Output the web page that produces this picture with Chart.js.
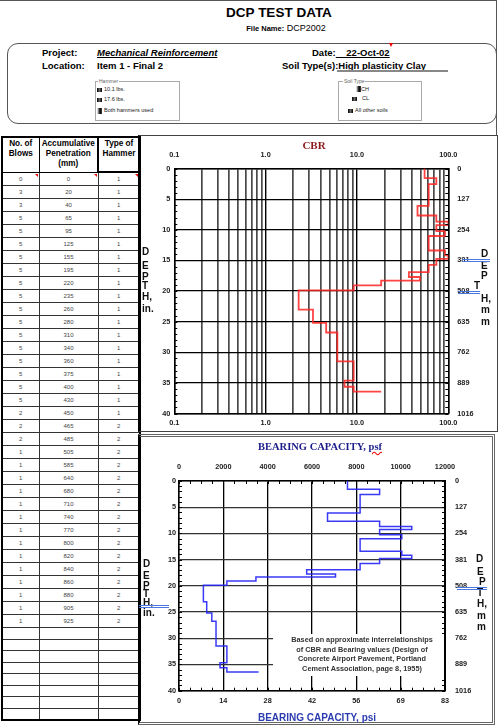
<!DOCTYPE html>
<html>
<head>
<meta charset="utf-8">
<title>DCP Test Data</title>
<script src="https://cdn.jsdelivr.net/npm/chart.js@4.4.1/dist/chart.umd.min.js"></script>
<style>
  html, body { margin: 0; padding: 0; background: #fff; }
  body { width: 500px; height: 725px; position: relative; overflow: hidden; font-family: "Liberation Sans", Arial, sans-serif; color: #000; }
  .a { position: absolute; white-space: nowrap; line-height: 1.2; }
  .b { font-weight: bold; }
  .c { transform: translateX(-50%); }
  .hd { font-size: 9.5px; font-weight: bold; }
  .leg { position: absolute; border: 1px solid #aaa; }
  .legt { position: absolute; font-size: 5px; color: #666; background: #fff; padding: 0 1px; line-height: 6px; }
  .li { position: absolute; font-size: 5.5px; color: #222; line-height: 7px; white-space: nowrap; }
  .ico { position: absolute; width: 5px; height: 4px; background: linear-gradient(90deg, #000, #666 50%, #000); }
  .ico2 { position: absolute; width: 5px; height: 6px; background: linear-gradient(90deg, #fff, #000 60%, #444); }
  .dl { position: absolute; font-size: 10px; font-weight: bold; line-height: 11px; color: #111; }
  .blue { position: absolute; height: 1px; border-top: 1px solid #4a78e0; border-bottom: 1px solid #4a78e0; }
  #tbl { position: absolute; left: 1px; top: 136px; width: 138px; border-collapse: collapse; table-layout: fixed; border: 2px solid #000; }
  #tbl th { font-size: 8.2px; font-weight: bold; line-height: 10px; height: 32px; vertical-align: top; border: 1px solid #000; padding: 1px 0 0 0; }
  #tbl th.thick { border: 2px solid #000; }
  #tbl td { font-size: 6px; color: #444; text-align: center; border: 1px solid #333; padding: 0; position: relative; }
  #tbl tr.d td { height: 12px; line-height: 12px; }
  #tbl tr.e td { height: 10.5px; }
  #tbl tr.first td::after { content: ""; position: absolute; right: 1px; top: 1px; border-left: 3px solid transparent; border-top: 3px solid #e00; }
  canvas { position: absolute; }
</style>
</head>
<body>

<!-- page frame -->
<div class="a" style="left:0;top:0;width:497px;border-top:1px solid #555;"></div>
<div class="a" style="left:496px;top:0;height:136px;border-left:1px solid #555;"></div>

<div class="a b c" style="left:279px;top:5px;font-size:13.5px;">DCP TEST DATA</div>
<div class="a c" style="left:286px;top:23px;font-size:9px;"><span class="b" style="font-size:7.5px;">File Name:</span> DCP2002</div>

<!-- info box -->
<div class="a" style="left:7px;top:43px;width:488px;height:79px;border:1px solid #555;border-radius:11px;"></div>
<div class="a hd" style="left:42px;top:47px;">Project:</div>
<div class="a hd" style="left:97px;top:47px;font-style:italic;text-decoration:underline;">Mechanical Reinforcement</div>
<div class="a hd" style="left:42px;top:60px;">Location:</div>
<div class="a hd" style="left:97px;top:60px;">Item 1 - Final 2</div>
<div class="a hd" style="left:312px;top:47px;">Date:<u>&nbsp;&nbsp;&nbsp;&nbsp;22-Oct-02</u></div>
<div class="a" style="left:389px;top:43px;border-left:2px solid transparent;border-top:4px solid #e00;border-right:2px solid transparent;"></div>
<div class="a hd" style="left:282px;top:60px;">Soil Type(s):<u>High plasticity Clay</u></div>
<div class="a" style="left:337px;top:70px;width:111px;border-top:2px solid #888;"></div>

<div class="leg" style="left:95px;top:81px;width:83px;height:38px;"></div>
<div class="legt" style="left:98px;top:78px;">Hammer</div>
<div class="ico" style="left:97px;top:88px;"></div><div class="li" style="left:104px;top:86px;">10.1 lbs.</div>
<div class="ico" style="left:97px;top:98px;"></div><div class="li" style="left:104px;top:96px;">17.6 lbs.</div>
<div class="ico2" style="left:97px;top:108px;"></div><div class="li" style="left:104px;top:107px;">Both hammers used</div>

<div class="leg" style="left:338px;top:81px;width:82px;height:38px;"></div>
<div class="legt" style="left:343px;top:78px;">Soil Type</div>
<div class="ico2" style="left:356px;top:86px;"></div><div class="li" style="left:361px;top:86px;">CH</div>
<div class="ico" style="left:352px;top:97px;"></div><div class="li" style="left:362px;top:95px;">CL</div>
<div class="ico" style="left:348px;top:109px;"></div><div class="li" style="left:355px;top:107px;">All other soils</div>

<!-- data table -->
<table id="tbl">
  <colgroup><col style="width:37px"><col style="width:59px"><col style="width:42px"></colgroup>
  <thead><tr><th>No. of<br>Blows</th><th>Accumulative<br>Penetration<br>(mm)</th><th class="thick">Type of<br>Hammer</th></tr></thead>
  <tbody id="rows"></tbody>
</table>

<!-- chart panels -->
<canvas id="cbrChart" width="354" height="293" style="left:141px;top:137px;"></canvas>
<canvas id="bearChart" width="351" height="283" style="left:141px;top:438px;"></canvas>

<div class="a" style="left:138px;top:135px;width:357px;height:295px;border:1px solid #444;border-left:2px solid #000;pointer-events:none;"></div>
<div class="a" style="left:138px;top:434px;width:352px;height:285px;border:3px double #666;border-left:2px solid #000;"></div>

<div class="a b c" style="left:314px;top:139px;font-family:'Liberation Serif',serif;font-size:11px;color:#8b1a1a;">CBR</div>
<div class="a b c" style="left:320px;top:441px;font-family:'Liberation Serif',serif;font-size:10.5px;color:#1c1c8a;">BEARING CAPACITY, <span style="text-decoration:underline wavy #e00;">psf</span></div>
<div class="a b c" style="left:317px;top:712px;font-size:10px;color:#2a3cb0;">BEARING CAPACITY, psi</div>

<div class="a" style="left:273px;top:634px;width:171px;height:42px;background:#fff;"></div>
<div class="a c" style="left:362px;top:635px;font-size:7.3px;line-height:9.7px;font-weight:bold;color:#333;text-align:center;">Based on approximate interrelationships<br>of CBR and Bearing values (Design of<br>Concrete Airport Pavement, Portland<br>Cement Association, page 8, 1955)</div>

<!-- depth labels -->
<div class="dl" style="left:142px;top:246px;">D</div>
<div class="dl" style="left:142px;top:260px;">E</div>
<div class="dl" style="left:142px;top:271px;">P</div>
<div class="dl" style="left:142px;top:280px;">T</div>
<div class="dl" style="left:142px;top:291px;">H,</div>
<div class="dl" style="left:142px;top:303px;">in.</div>

<div class="dl" style="left:481px;top:248px;">D</div>
<div class="dl" style="left:481px;top:260px;">E</div>
<div class="dl" style="left:481px;top:270px;">P</div>
<div class="dl" style="left:474px;top:280px;">T</div>
<div class="dl" style="left:481px;top:293px;">H,</div>
<div class="dl" style="left:481px;top:304px;">m</div>
<div class="dl" style="left:481px;top:316px;">m</div>
<div class="blue" style="left:462px;top:259px;width:28px;"></div>
<div class="blue" style="left:458px;top:291px;width:22px;"></div>

<div class="dl" style="left:143px;top:558px;">D</div>
<div class="dl" style="left:143px;top:570px;">E</div>
<div class="dl" style="left:143px;top:580px;">P</div>
<div class="dl" style="left:143px;top:588px;">T</div>
<div class="dl" style="left:143px;top:597px;">H,</div>
<div class="dl" style="left:143px;top:607px;">in.</div>
<div class="blue" style="left:139px;top:605px;width:30px;"></div>

<div class="dl" style="left:476px;top:553px;">D</div>
<div class="dl" style="left:477px;top:566px;">E</div>
<div class="dl" style="left:479px;top:576px;">P</div>
<div class="dl" style="left:477px;top:587px;">T</div>
<div class="dl" style="left:477px;top:598px;">H,</div>
<div class="dl" style="left:477px;top:610px;">m</div>
<div class="dl" style="left:477px;top:621px;">m</div>
<div class="blue" style="left:457px;top:587px;width:30px;"></div>

<script>
// table values
const blows = [0, 3, 3, 5, 5, 5, 5, 5, 5, 5, 5, 5, 5, 5, 5, 5, 5, 5, 2, 2, 2, 1, 1, 1, 1, 1, 1, 1, 1, 1, 1, 1, 1, 1, 1];
const penetrationMm = [0, 20, 40, 65, 95, 125, 155, 195, 220, 235, 260, 280, 310, 340, 360, 375, 400, 430, 450, 465, 485, 505, 585, 640, 680, 710, 740, 770, 800, 820, 840, 860, 880, 905, 925];
const hammerType = [1, 1, 1, 1, 1, 1, 1, 1, 1, 1, 1, 1, 1, 1, 1, 1, 1, 1, 1, 2, 2, 2, 2, 2, 2, 2, 2, 2, 2, 2, 2, 2, 2, 2, 2];

// CBR and bearing value for each layer between two readings
const cbrValues = [55, 55, 74, 61, 61, 61, 46, 74, 100, 74, 92, 61, 61, 92, 100, 74, 61, 37, 49, 18.4, 9.2, 2.3, 3.3, 4.6, 6.1, 6.1, 6.1, 6.1, 9.2, 9.2, 9.2, 9.2, 7.3, 9.2];
const cbrTail = 18.4;
const bearingPsf = [7600, 7600, 9050, 8170, 8170, 8170, 6700, 9050, 10500, 9050, 10050, 8170, 8170, 10050, 10500, 9050, 8170, 5760, 7060, 3470, 2160, 1100, 1250, 1480, 1670, 1670, 1670, 1670, 2160, 2160, 2160, 2160, 1850, 2160];
const bearingTail = 3590;

// axis ticks
const cbrDecades = [0.1, 1, 10, 100];
const cbrTickLabels = ['0.1', '1.0', '10.0', '100.0'];
const depthInTicks = [0, 5, 10, 15, 20, 25, 30, 35, 40];
const depthMmTicks = [0, 127, 254, 381, 508, 635, 762, 889, 1016];
const psfTicks = [0, 2000, 4000, 6000, 8000, 10000, 12000];
const psiTickLabels = ['0', '14', '28', '42', '56', '69', '83'];

const emptyRows = 8;

// ---- table ----
const tbody = document.getElementById('rows');
penetrationMm.forEach((p, i) => {
    const tr = document.createElement('tr');
    tr.className = i === 0 ? 'd first' : 'd';
    tr.innerHTML = `<td>${blows[i]}</td><td>${p}</td><td>${hammerType[i]}</td>`;
    tbody.appendChild(tr);
});
for (let k = 0; k < emptyRows; k++) {
    const tr = document.createElement('tr');
    tr.className = 'e';
    tr.innerHTML = '<td></td><td></td><td></td>';
    tbody.appendChild(tr);
}

// ---- chart helpers ----
const depthIn = penetrationMm.map(mm => mm / 25.4);

function stepPoints(vals, tail) {
    const pts = [];
    vals.forEach((v, i) => {
        pts.push({ x: v, y: depthIn[i] }, { x: v, y: depthIn[i + 1] });
    });
    pts.push({ x: tail, y: depthIn[depthIn.length - 1] });
    return pts;
}

const cbrGrid = [];
cbrDecades.slice(0, -1).forEach(d => {
    for (let m = 1; m < 10; m++) cbrGrid.push(+(d * m).toPrecision(3));
});
cbrGrid.push(cbrDecades[cbrDecades.length - 1]);

function cbrLabel(v) {
    const k = cbrDecades.findIndex(d => Math.abs(d - v) < 1e-9);
    return k < 0 ? '' : cbrTickLabels[k];
}

const minorDepth = Array.from({ length: 41 }, (_, i) => i);
const minorPsf = Array.from({ length: 25 }, (_, i) => i * 500);

const edgeTicks = {
    id: 'edgeTicks',
    afterDatasetsDraw(chart, args, opts) {
        const { ctx, chartArea: a, scales } = chart;
        ctx.save();
        ctx.strokeStyle = '#000';
        ctx.lineWidth = 1;
        ctx.beginPath();
        (opts.ys || []).forEach(v => {
            const py = Math.round(scales.y.getPixelForValue(v)) + 0.5;
            ctx.moveTo(a.left, py); ctx.lineTo(a.left + opts.len, py);
            ctx.moveTo(a.right, py); ctx.lineTo(a.right - opts.len, py);
        });
        (opts.xs || []).forEach(v => {
            const px = Math.round(scales.x.getPixelForValue(v)) + 0.5;
            ctx.moveTo(px, a.top); ctx.lineTo(px, a.top + opts.len);
            ctx.moveTo(px, a.bottom); ctx.lineTo(px, a.bottom - opts.len);
        });
        ctx.stroke();
        ctx.restore();
    }
};

Chart.defaults.font.family = "'Liberation Sans', Arial, sans-serif";
Chart.defaults.color = '#222';

const tickFont = { size: 7.3, weight: 'bold' };

function fixed(size) {
    return axis => {
        if (axis.isHorizontal()) axis.height = size; else axis.width = size;
    };
}

// ---- CBR chart ----
new Chart(document.getElementById('cbrChart'), {
    type: 'scatter',
    data: {
        datasets: [{
            data: stepPoints(cbrValues, cbrTail),
            showLine: true,
            borderColor: 'rgba(255, 35, 35, 0.85)',
            borderWidth: 1.8,
            pointRadius: 0
        }]
    },
    options: {
        responsive: false,
        animation: false,
        layout: { padding: 0 },
        plugins: {
            legend: { display: false },
            tooltip: { enabled: false },
            edgeTicks: { ys: minorDepth, len: 3 }
        },
        scales: {
            x: {
                type: 'logarithmic', position: 'top', min: 0.1, max: 100,
                afterBuildTicks: axis => { axis.ticks = cbrGrid.map(v => ({ value: v })); },
                afterFit: fixed(31.5),
                ticks: { callback: v => cbrLabel(v), autoSkip: false, maxRotation: 0, padding: 9, font: tickFont },
                grid: {
                    drawTicks: false,
                    color: c => cbrDecades.includes(c.tick.value) ? '#000' : '#4a4a4a',
                    lineWidth: c => cbrDecades.includes(c.tick.value) ? 1.4 : 1.7
                },
                border: { color: '#000', width: 1.5 }
            },
            x2: {
                type: 'logarithmic', position: 'bottom', min: 0.1, max: 100,
                afterBuildTicks: axis => { axis.ticks = cbrGrid.map(v => ({ value: v })); },
                afterFit: fixed(16.5),
                ticks: { callback: v => cbrLabel(v), autoSkip: false, maxRotation: 0, padding: 5, font: tickFont },
                grid: { drawOnChartArea: false, drawTicks: false },
                border: { color: '#000', width: 1.5 }
            },
            y: {
                type: 'linear', position: 'left', reverse: true, min: 0, max: 40,
                afterBuildTicks: axis => { axis.ticks = depthInTicks.map(v => ({ value: v })); },
                afterFit: fixed(33.3),
                ticks: { padding: 4, font: tickFont, callback: (v, i) => String(depthInTicks[i]) },
                grid: { drawTicks: false, color: '#000', lineWidth: 1.2 },
                border: { color: '#000', width: 1.5 }
            },
            y2: {
                type: 'linear', position: 'right', reverse: true, min: 0, max: 1016,
                afterBuildTicks: axis => { axis.ticks = depthMmTicks.map(v => ({ value: v })); },
                afterFit: fixed(46.7),
                ticks: { padding: 9, font: tickFont, callback: (v, i) => String(depthMmTicks[i]) },
                grid: { drawOnChartArea: false, drawTicks: false },
                border: { color: '#000', width: 1.5 }
            }
        }
    },
    plugins: [edgeTicks]
});

// ---- Bearing capacity chart ----
new Chart(document.getElementById('bearChart'), {
    type: 'scatter',
    data: {
        datasets: [{
            data: stepPoints(bearingPsf, bearingTail),
            showLine: true,
            borderColor: 'rgba(35, 35, 245, 0.9)',
            borderWidth: 1.5,
            pointRadius: 0
        }]
    },
    options: {
        responsive: false,
        animation: false,
        layout: { padding: 0 },
        plugins: {
            legend: { display: false },
            tooltip: { enabled: false },
            edgeTicks: { ys: minorDepth, xs: minorPsf, len: 3 }
        },
        scales: {
            x: {
                type: 'linear', position: 'top', min: 0, max: 12000,
                afterBuildTicks: axis => { axis.ticks = psfTicks.map(v => ({ value: v })); },
                afterFit: fixed(43),
                ticks: { autoSkip: false, maxRotation: 0, padding: 9.5, font: tickFont, callback: (v, i) => String(psfTicks[i]) },
                grid: { drawTicks: false, color: '#000', lineWidth: 1.3 },
                border: { color: '#000', width: 1.5 }
            },
            x2: {
                type: 'linear', position: 'bottom', min: 0, max: 12000,
                afterBuildTicks: axis => { axis.ticks = psfTicks.map(v => ({ value: v })); },
                afterFit: fixed(30.3),
                ticks: { autoSkip: false, maxRotation: 0, padding: 5.5, font: tickFont, callback: (v, i) => psiTickLabels[i] },
                grid: { drawOnChartArea: false, drawTicks: false },
                border: { color: '#000', width: 1.5 }
            },
            y: {
                type: 'linear', position: 'left', reverse: true, min: 0, max: 40,
                afterBuildTicks: axis => { axis.ticks = depthInTicks.map(v => ({ value: v })); },
                afterFit: fixed(38),
                ticks: { padding: 3, font: tickFont, callback: (v, i) => String(depthInTicks[i]) },
                grid: { drawTicks: false, color: '#333', lineWidth: 1.3 },
                border: { color: '#000', width: 1.5 }
            },
            y2: {
                type: 'linear', position: 'right', reverse: true, min: 0, max: 1016,
                afterBuildTicks: axis => { axis.ticks = depthMmTicks.map(v => ({ value: v })); },
                afterFit: fixed(47),
                ticks: { padding: 10, font: tickFont, callback: (v, i) => String(depthMmTicks[i]) },
                grid: { drawOnChartArea: false, drawTicks: false },
                border: { color: '#000', width: 2 }
            }
        }
    },
    plugins: [edgeTicks]
});
</script>
</body>
</html>
